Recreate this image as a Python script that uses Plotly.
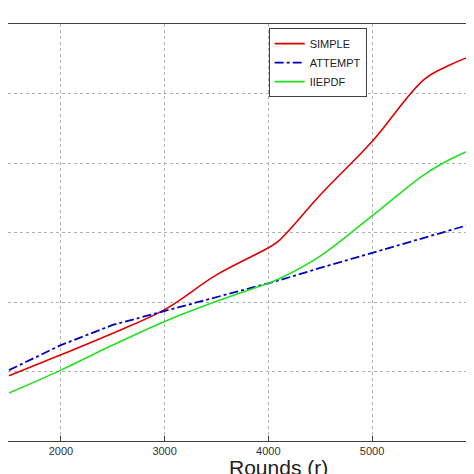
import plotly.graph_objects as go

rounds = [1500, 2000, 2500, 3000, 3500, 4000, 4100, 4500, 5000, 5500, 5750, 6000, 6060]
simple = [0.94, 1.24, 1.55, 1.89, 2.39, 2.78, 2.88, 3.54, 4.31, 5.2, 5.41, 5.56, 5.58]
attempt = [1.02, 1.38, 1.67, 1.87, 2.06, 2.27, 2.31, 2.49, 2.71, 2.93, 3.03, 3.14, 3.18]
iiepdf = [0.69, 1.02, 1.38, 1.72, 2.01, 2.27, 2.33, 2.66, 3.24, 3.83, 4.05, 4.22, 4.25]

fig = go.Figure()
fig.add_trace(go.Scatter(x=rounds, y=simple, name="SIMPLE", mode="lines",
                         line=dict(color="#e00000", width=1.6, shape="spline")))
fig.add_trace(go.Scatter(x=rounds, y=attempt, name="ATTEMPT", mode="lines",
                         line=dict(color="#0000c0", width=1.8, dash="dashdot")))
fig.add_trace(go.Scatter(x=rounds, y=iiepdf, name="IIEPDF", mode="lines",
                         line=dict(color="#20e020", width=1.6, shape="spline")))

grid = dict(showgrid=True, gridcolor="#b0b0b0", griddash="dot", gridwidth=1,
            showline=True, linecolor="#404040", mirror=True, zeroline=False,
            automargin=False)
fig.update_xaxes(range=[1490, 6060], tickvals=[2000, 3000, 4000, 5000, 6000],
                 ticks="inside", ticklen=5, tickcolor="#404040",
                 tickfont=dict(family="Arial", size=11, color="#333"), **grid)
fig.update_yaxes(range=[0, 6], dtick=1, showticklabels=False, **grid)
fig.add_annotation(text="Rounds (r)", xref="paper", yref="paper", x=0.57, y=0,
                   yshift=-26, yanchor="middle", showarrow=False,
                   font=dict(family="Arial", size=21, color="#222"))
fig.update_layout(
    width=474, height=474, plot_bgcolor="white", paper_bgcolor="white",
    margin=dict(l=0, r=0, t=16, b=41),
    legend=dict(x=0.55, y=0.99, xanchor="left", yanchor="top",
                bordercolor="#404040", borderwidth=1, bgcolor="white",
                font=dict(family="Arial", size=11, color="#222"),
                tracegroupgap=0, itemwidth=30),
)
fig.write_html("out.html")
